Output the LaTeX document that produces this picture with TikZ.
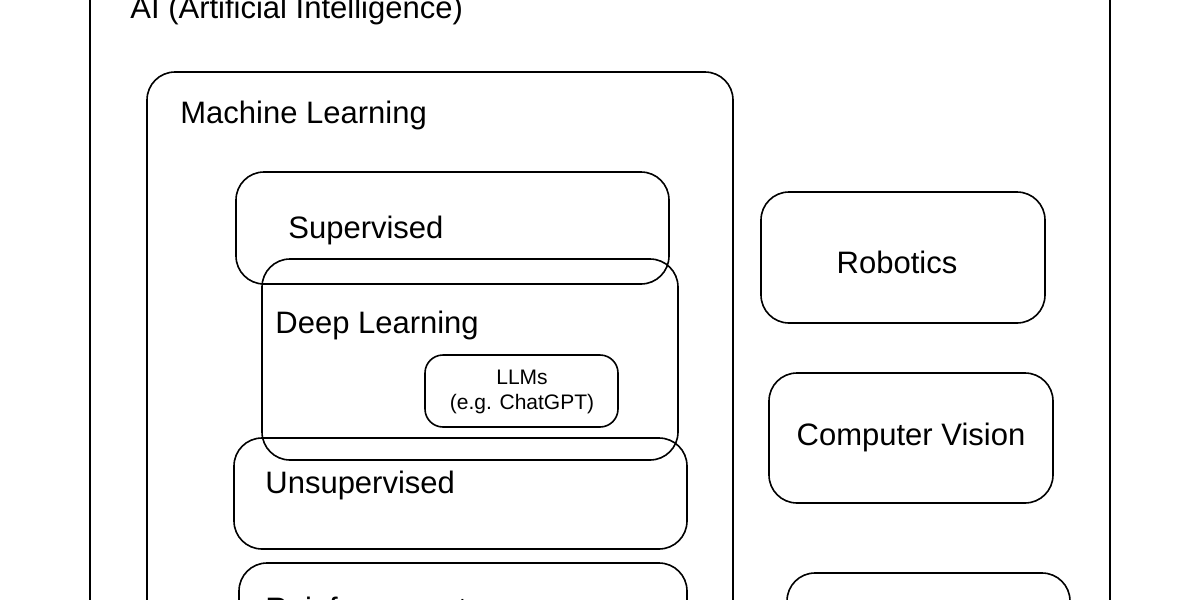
\documentclass[tikz,border=0pt]{standalone}
\usepackage{fontspec}
\setmainfont{Liberation Sans}
\begin{document}
\begin{tikzpicture}[x=0.5pt,y=-0.5pt,
  box/.style={draw=black,line width=0.8pt,rounded corners=14pt},
  lbl/.style={font=\fontsize{15.5}{18}\selectfont,inner sep=0pt},
  sml/.style={font=\fontsize{10.5}{12.5}\selectfont,align=center,inner sep=0pt}]
\useasboundingbox (0,0) rectangle (1200,600);
\clip (0,0) rectangle (1200,600);
\fill[white] (0,0) rectangle (1200,600);
\draw[box] (90,-40) rectangle (1110,660);
\node[lbl,anchor=west] (ai) at (130,10) {AI (Artificial Intelligence)};
\draw[box] (147,72) rectangle (733,660);
\node[lbl,anchor=west] (ml) at (180,115) {Machine Learning};
\draw[box] (236,172) rectangle (669,284);
\node[lbl,anchor=west] (sup) at (288,230) {Supervised};
\draw[box] (262,259) rectangle (678,460);
\node[lbl,anchor=west] (dl) at (275,325) {Deep Learning};
\draw[box,rounded corners=9pt] (425,355) rectangle (618,427);
\node[sml] (llm) at (522,392) {LLMs\\(e.g. ChatGPT)};
\draw[box] (234,438) rectangle (687,549);
\node[lbl,anchor=west] (uns) at (265,485) {Unsupervised};
\draw[box] (239,563) rectangle (687,680);
\node[lbl,anchor=west] (rl) at (265,608) {Reinforcement};
\draw[box] (761,192) rectangle (1045,323);
\node[lbl] (rob) at (897,262) {Robotics};
\draw[box] (769,373) rectangle (1053,503);
\node[lbl] (cv) at (911,437) {Computer Vision};
\draw[box] (787,573) rectangle (1070,690);
\end{tikzpicture}
\end{document}
